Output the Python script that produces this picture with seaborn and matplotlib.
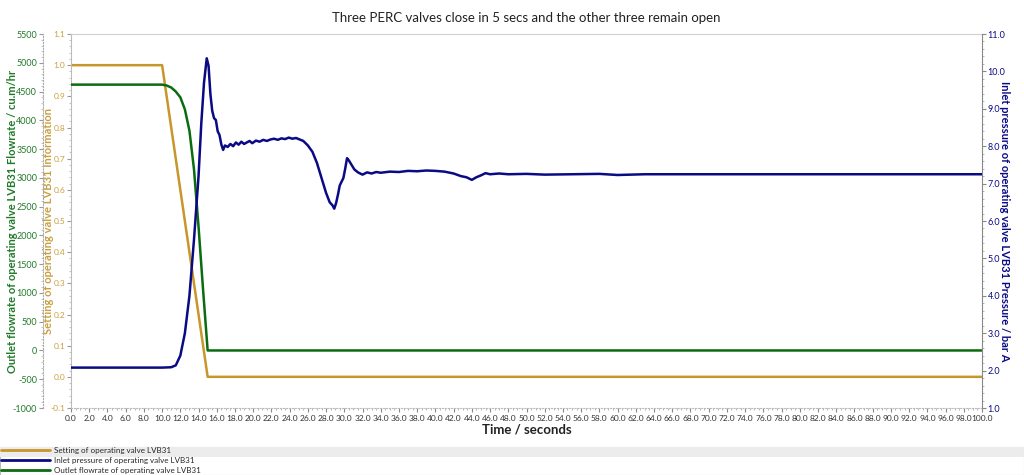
import numpy as np
import pandas as pd
import matplotlib
matplotlib.use("Agg")
import matplotlib.pyplot as plt
import seaborn as sns
from matplotlib.ticker import MultipleLocator, FormatStrFormatter
from matplotlib.lines import Line2D
from matplotlib.patches import Rectangle

# Valve setting (0..1)
setting_t = [0.0, 10.0, 15.0, 100.0]
setting_v = [1.0, 1.0, 0.0, 0.0]

# Outlet flowrate (cu.m/hr)
flow_t = [0.0, 10.0, 10.5, 11.0, 11.5, 12.0, 12.5, 13.0, 13.5, 14.0, 14.5, 15.0, 100.0]
flow_v = [4620, 4620, 4605, 4570, 4500, 4400, 4190, 3820, 3150, 2150, 1050, 0, 0]

# Inlet pressure (bar A)
press_t = [0.0, 10.0, 11.0, 11.5, 12.0, 12.5, 13.0, 13.5, 14.0, 14.3, 14.6, 14.9, 15.1,
           15.3, 15.5, 15.7, 15.9, 16.1, 16.3, 16.5, 16.7, 16.9, 17.2, 17.5, 17.8, 18.1,
           18.4, 18.7, 19.0, 19.3, 19.6, 19.9, 20.3, 20.7, 21.1, 21.5, 21.9, 22.3, 22.7,
           23.1, 23.5, 23.9, 24.3, 24.7, 25.1, 25.5, 26.0, 26.5, 27.0, 27.5, 28.0, 28.4,
           28.7, 28.9, 29.1, 29.3, 29.5, 29.7, 29.9, 30.1, 30.3, 30.5, 30.8, 31.1, 31.5,
           32.0, 32.5, 33.0, 33.5, 34.0, 35.0, 36.0, 37.0, 38.0, 39.0, 40.0, 41.0, 42.0,
           42.8, 43.4, 44.0, 44.5, 45.0, 45.5, 46.0, 47.0, 48.0, 50.0, 52.0, 55.0, 58.0,
           60.0, 63.0, 66.0, 70.0, 75.0, 80.0, 85.0, 90.0, 95.0, 100.0]
press_v = [2.08, 2.08, 2.09, 2.14, 2.4, 3.0, 4.0, 5.5, 7.2, 8.6, 9.7, 10.35, 10.15,
           9.4, 8.95, 8.75, 8.7, 8.4, 8.3, 8.05, 7.9, 8.02, 7.98, 8.06, 8.0, 8.1,
           8.04, 8.12, 8.06, 8.1, 8.14, 8.08, 8.15, 8.12, 8.17, 8.14, 8.18, 8.2, 8.17,
           8.21, 8.19, 8.23, 8.2, 8.22, 8.18, 8.14, 8.02, 7.85, 7.55, 7.15, 6.75, 6.5,
           6.42, 6.33, 6.48, 6.7, 6.95, 7.05, 7.15, 7.4, 7.68, 7.62, 7.5, 7.38, 7.3,
           7.24, 7.3, 7.27, 7.31, 7.29, 7.32, 7.31, 7.34, 7.33, 7.35, 7.34, 7.32, 7.27,
           7.2, 7.17, 7.1, 7.17, 7.22, 7.28, 7.25, 7.27, 7.25, 7.26, 7.24, 7.25, 7.26,
           7.23, 7.25, 7.25, 7.25, 7.25, 7.25, 7.25, 7.25, 7.25, 7.25]

labels = ["Setting of operating valve LVB31",
          "Inlet pressure of operating valve LVB31",
          "Outlet flowrate of operating valve LVB31"]

c_gold = "#c8962a"
c_navy = "#0a0a85"
c_green = "#0b6b10"
c_gold_txt = "#c9a040"
c_green_txt = "#207a28"

sns.set_style("white")
plt.rcParams['font.family'] = ['Lato', 'DejaVu Sans']

fig = plt.figure(figsize=(10.24, 4.75), dpi=100)
ax = fig.add_axes([71 / 1024, 1 - 408 / 475, 911 / 1024, 374 / 475])
ax_g = ax.twinx()
ax_n = ax.twinx()

# green axis sits on the far left
ax_g.yaxis.set_label_position("left")
ax_g.yaxis.set_ticks_position("left")
ax_g.spines["left"].set_position(("axes", -0.031))
ax_g.spines["left"].set_linestyle(":")
ax_g.spines["left"].set_color("#aaaaaa")
for s in ["right", "top", "bottom"]:
    ax_g.spines[s].set_visible(False)
for s in ["left", "top", "bottom"]:
    ax_n.spines[s].set_visible(False)

df_s = pd.DataFrame({"t": setting_t, "v": setting_v})
df_f = pd.DataFrame({"t": flow_t, "v": flow_v})
df_p = pd.DataFrame({"t": press_t, "v": press_v})

sns.lineplot(data=df_s, x="t", y="v", ax=ax, color=c_gold, lw=1.8, legend=False)
sns.lineplot(data=df_f, x="t", y="v", ax=ax_g, color=c_green, lw=1.8, legend=False)
sns.lineplot(data=df_p, x="t", y="v", ax=ax_n, color=c_navy, lw=1.8, legend=False)

ax.set_xlim(0, 100)
ax.set_ylim(-0.1, 1.1)
ax_g.set_ylim(-1000, 5500)
ax_n.set_ylim(1.0, 11.0)

ax.xaxis.set_major_locator(MultipleLocator(2))
ax.xaxis.set_minor_locator(MultipleLocator(0.5))
ax.xaxis.set_major_formatter(FormatStrFormatter('%.1f'))
ax.yaxis.set_major_locator(MultipleLocator(0.1))
ax.yaxis.set_minor_locator(MultipleLocator(0.02))
ax.yaxis.set_major_formatter(FormatStrFormatter('%.1f'))
ax_g.yaxis.set_major_locator(MultipleLocator(500))
ax_g.yaxis.set_minor_locator(MultipleLocator(100))
ax_g.yaxis.set_major_formatter(FormatStrFormatter('%d'))
ax_n.yaxis.set_major_locator(MultipleLocator(1))
ax_n.yaxis.set_minor_locator(MultipleLocator(0.2))
ax_n.yaxis.set_major_formatter(FormatStrFormatter('%.1f'))

ax.tick_params(axis="x", which="major", labelsize=6, length=3, color="#888888",
               labelcolor="#333333", pad=2, bottom=True)
ax.tick_params(axis="x", which="minor", length=1.5, color="#aaaaaa", bottom=True)
ax.tick_params(axis="y", which="major", labelsize=6, length=3, color="#999999",
               labelcolor=c_gold_txt, pad=1, left=True)
ax.tick_params(axis="y", which="minor", length=1.5, color="#bbbbbb", left=True)
ax_g.tick_params(axis="y", which="major", labelsize=6.5, length=3, color="#999999",
                 labelcolor=c_green_txt, pad=1, left=True)
ax_g.tick_params(axis="y", which="minor", length=1.5, color="#bbbbbb", left=True)
ax_n.tick_params(axis="y", which="major", labelsize=6.5, length=3, color="#888888",
                 labelcolor=c_navy, pad=1, right=True)
ax_n.tick_params(axis="y", which="minor", length=1.5, color="#aaaaaa", right=True)

ax.spines["top"].set_color("#d0d0d0")
ax.spines["bottom"].set_color("#bbbbbb")
ax.spines["bottom"].set_linestyle(":")
ax.spines["left"].set_color("#bbbbbb")
ax.spines["right"].set_visible(False)
ax_n.spines["right"].set_color("#888888")

ax.set_xlabel("Time / seconds", fontsize=9.5, fontweight="bold", color="#222222", labelpad=1)
ax.set_ylabel("Setting of operating valve LVB31 Information", fontsize=8,
              fontweight="bold", color=c_gold_txt, va="center")
ax_g.set_ylabel("Outlet flowrate of operating valve LVB31 Flowrate / cu.m/hr", fontsize=8,
                fontweight="bold", color=c_green_txt, va="center")
ax_n.set_ylabel("Inlet pressure of operating valve LVB31 Pressure / bar A", fontsize=8,
                fontweight="bold", color=c_navy, rotation=270, va="center")
ax.yaxis.set_label_coords(-0.0245, 0.5)
ax_g.yaxis.set_label_coords(-0.0645, 0.5)
ax_n.yaxis.set_label_coords(1.0245, 0.5)
ax.set_title("Three PERC valves close in 5 secs and the other three remain open",
             fontsize=9.5, color="#222222", pad=9)

# legend panel at the bottom
fig.patches.append(Rectangle((0, 0), 1, 28 / 475, transform=fig.transFigure,
                             facecolor="white", edgecolor="#bbbbbb", lw=0.8, zorder=0))
fig.patches.append(Rectangle((0, 1 - 457 / 475), 1, 10 / 475, transform=fig.transFigure,
                             facecolor="#ececec", edgecolor="none", zorder=0))
handles = [Line2D([], [], color=c_gold, lw=2),
           Line2D([], [], color=c_navy, lw=2),
           Line2D([], [], color=c_green, lw=2)]
fig.legend(handles, labels, loc="lower left", bbox_to_anchor=(0.0, 0.0), frameon=False,
           fontsize=5.8, handlelength=6.0, handletextpad=0.6, labelspacing=0.35,
           borderpad=0.05, borderaxespad=0.1)

fig.savefig("out.png", dpi=100)
